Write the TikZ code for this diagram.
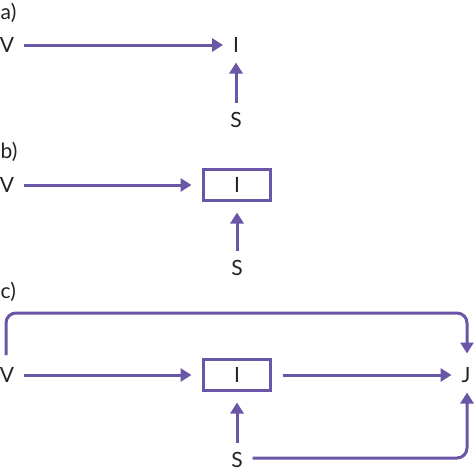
\documentclass[tikz,border=0pt]{standalone}
\usepackage{fontspec}
\setmainfont{Lato}
\usetikzlibrary{arrows.meta}
\definecolor{pur}{HTML}{6A56A6}
\definecolor{txt}{HTML}{222222}
\begin{document}
\begin{tikzpicture}[x=1pt,y=-1pt,
  font=\fontsize{21}{24}\selectfont,
  lbl/.style={text=txt, inner sep=0pt, outer sep=10pt, text height=15pt, text depth=0pt},
  tag/.style={text=txt, inner sep=0pt, anchor=west},
  box/.style={draw=pur, line width=3pt, minimum width=67pt, minimum height=31pt, inner sep=0pt, outer sep=12pt, text=txt, text height=15pt, text depth=0pt},
  arr/.style={draw=pur, line width=3pt, -{Triangle[length=11pt,width=13pt]}}]
\useasboundingbox (0,0) rectangle (474,471);
% a)
\node[tag] (ta) at (0.5,13) {a)};
\node[lbl] (Va) at (7,45) {V};
\node[lbl] (Ia) at (236,45) {I};
\node[lbl] (Sa) at (236,120) {S};
\draw[arr] (Va) -- (Ia);
\draw[arr] (Sa) -- (Ia);
% b)
\node[tag] (tb) at (0.5,152) {b)};
\node[lbl] (Vb) at (7,185) {V};
\node[box] (Ib) at (237,185) {I};
\node[lbl] (Sb) at (237,268) {S};
\draw[arr] (Vb) -- (Ib);
\draw[arr] (Sb) -- (Ib);
% c)
\node[tag] (tc) at (0.5,292) {c)};
\node[lbl] (Vc) at (7,375) {V};
\node[box] (Ic) at (237,375) {I};
\node[lbl] (Sc) at (237,460) {S};
\node[lbl] (Jc) at (466,375) {J};
\coordinate (top) at (0,313);
\coordinate (bot) at (0,458);
\draw[arr] (Vc) -- (Ic);
\draw[arr] (Ic) -- (Jc);
\draw[arr] (Sc) -- (Ic);
\draw[arr, rounded corners=10pt, shorten >=4pt] ([xshift=-1pt,yshift=2.5pt]Vc.north) -- ([xshift=-1pt]Vc.north |- top) -- ([xshift=1pt]Jc.north |- top) -- ([xshift=1pt]Jc.north);
\draw[arr, rounded corners=10pt] (Sc.east |- bot) -- ([xshift=1pt]Jc.south |- bot) -- ([xshift=1pt]Jc.south);
\end{tikzpicture}
\end{document}
